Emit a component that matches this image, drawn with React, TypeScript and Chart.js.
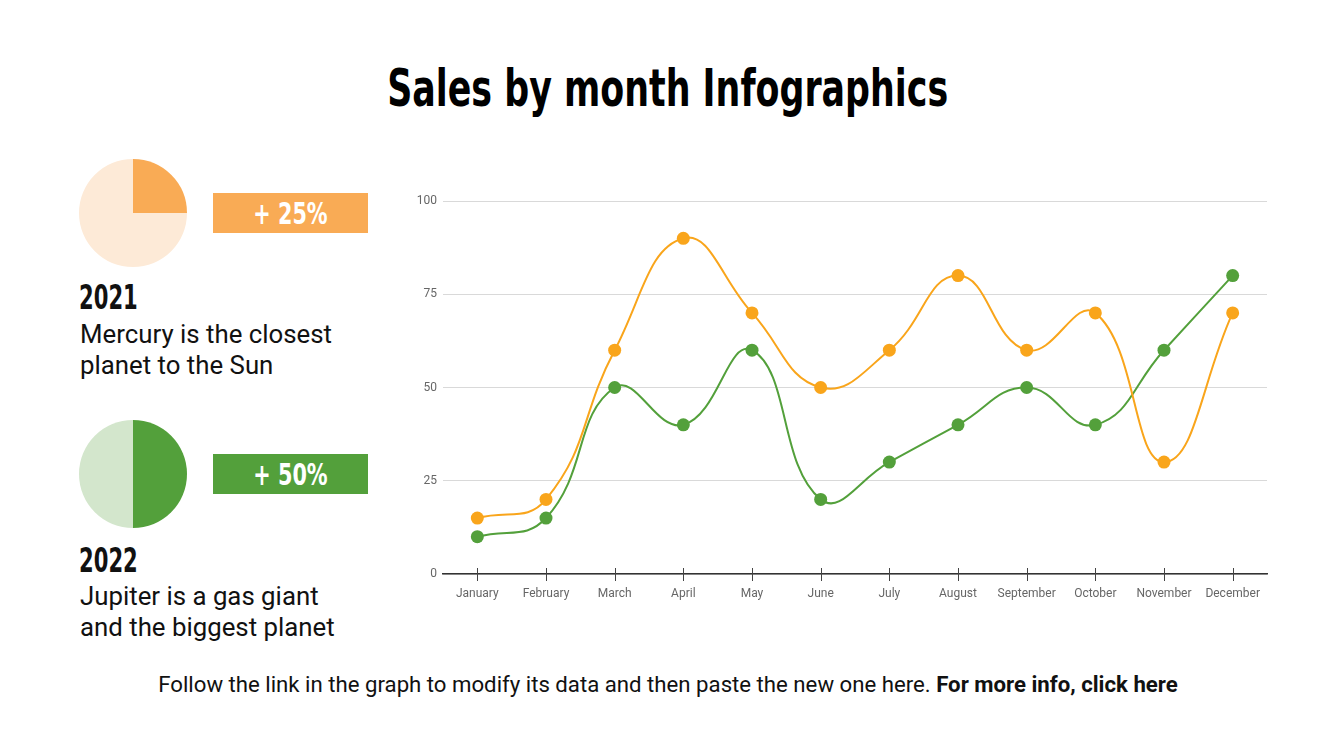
import React, { useEffect, useRef } from "react";
import { Chart, registerables } from "chart.js";

Chart.register(...registerables);

const months = ["January", "February", "March", "April", "May", "June", "July", "August", "September", "October", "November", "December"];
const sales2021 = [15, 20, 60, 90, 70, 50, 60, 80, 60, 70, 30, 70];
const sales2022 = [10, 15, 50, 40, 60, 20, 30, 40, 50, 40, 60, 80];
const yTicks = [0, 25, 50, 75, 100];
const pie2021 = [25, 75];
const pie2022 = [50, 50];

const ORANGE = "#F9A51B";
const GREEN = "#53A03B";
const CONDENSED = "'DejaVu Sans', sans-serif";

const tickCross = {
  id: "tickCross",
  afterDraw(chart: any) {
    const x = chart.scales.x;
    const ctx = chart.ctx;
    ctx.save();
    ctx.strokeStyle = "#444";
    ctx.lineWidth = 1;
    for (let i = 0; i < months.length; i++) {
      const px = Math.round(x.getPixelForTick(i)) + 0.5;
      ctx.beginPath();
      ctx.moveTo(px, x.top - 6);
      ctx.lineTo(px, x.top + 7);
      ctx.stroke();
    }
    ctx.restore();
  },
};

function LineChart() {
  const ref = useRef<HTMLCanvasElement>(null);
  useEffect(() => {
    const chart = new Chart(ref.current!, {
      type: "line",
      data: {
        labels: months,
        datasets: [
          {
            data: sales2021,
            borderColor: ORANGE,
            backgroundColor: ORANGE,
            pointBackgroundColor: ORANGE,
            pointBorderWidth: 0,
            pointRadius: 6.5,
            borderWidth: 2,
            tension: 0.45,
          },
          {
            data: sales2022,
            borderColor: GREEN,
            backgroundColor: GREEN,
            pointBackgroundColor: GREEN,
            pointBorderWidth: 0,
            pointRadius: 6.5,
            borderWidth: 2,
            tension: 0.45,
          },
        ],
      },
      options: {
        animation: false,
        responsive: false,
        maintainAspectRatio: false,
        layout: { padding: { top: 16, right: 13, left: 0, bottom: 0 } },
        plugins: { legend: { display: false }, tooltip: { enabled: false } },
        scales: {
          x: {
            offset: true,
            grid: { display: false, drawTicks: false },
            border: { display: true, color: "#333", width: 1.5 },
            ticks: { color: "#666", font: { family: "Roboto", size: 12 }, padding: 13, maxRotation: 0, autoSkip: false },
            afterFit: (s: any) => { s.height = 36; },
          },
          y: {
            min: 0,
            max: 100,
            afterBuildTicks: (s: any) => { s.ticks = yTicks.map((v) => ({ value: v })); },
            grid: { color: "#d9d9d9", drawTicks: false },
            border: { display: false },
            ticks: { color: "#666", font: { family: "Roboto", size: 12 }, padding: 6 },
            afterFit: (s: any) => { s.width = 43; },
          },
        },
      },
      plugins: [tickCross],
    });
    return () => chart.destroy();
  }, []);
  return <canvas ref={ref} width={880} height={425} style={{ position: "absolute", left: 400, top: 185, width: 880, height: 425 }} />;
}

function Pie({ values, colors, left, top }: { values: number[]; colors: string[]; left: number; top: number }) {
  const ref = useRef<HTMLCanvasElement>(null);
  useEffect(() => {
    const chart = new Chart(ref.current!, {
      type: "pie",
      data: { datasets: [{ data: values, backgroundColor: colors, borderWidth: 0 }] },
      options: {
        animation: false,
        responsive: false,
        plugins: { legend: { display: false }, tooltip: { enabled: false } },
        layout: { padding: 0 },
      },
    });
    return () => chart.destroy();
  }, []);
  return <canvas ref={ref} width={108} height={108} style={{ position: "absolute", left, top, width: 108, height: 108 }} />;
}

function Badge({ text, color, top }: { text: string; color: string; top: number }) {
  return (
    <div
      style={{
        position: "absolute",
        left: 213,
        top,
        width: 155,
        height: 40,
        background: color,
        color: "#fff",
        fontFamily: CONDENSED,
        fontWeight: 700,
        fontSize: 31,
        lineHeight: "40px",
        textAlign: "center",
      }}
    >
      <span style={{ display: "inline-block", transform: "scaleX(0.67)", transformOrigin: "center" }}>{text}</span>
    </div>
  );
}

export default function App() {
  const body: React.CSSProperties = {
    position: "absolute",
    left: 80,
    fontFamily: "Roboto, sans-serif",
    fontSize: 25.8,
    lineHeight: "31px",
    color: "#111",
    whiteSpace: "pre",
  };
  const year: React.CSSProperties = {
    position: "absolute",
    left: 79,
    fontFamily: CONDENSED,
    fontWeight: 700,
    fontSize: 33,
    lineHeight: "36px",
    color: "#111",
    transform: "scaleX(0.64)",
    transformOrigin: "left center",
  };
  return (
    <div style={{ position: "fixed", left: 0, top: 0, width: 1336, height: 752, background: "#fff", overflow: "hidden" }}>
      <div
        style={{
          position: "absolute",
          left: 0,
          width: 1336,
          top: 58,
          textAlign: "center",
          fontFamily: CONDENSED,
          fontWeight: 700,
          fontSize: 52,
          lineHeight: "60px",
          color: "#000",
        }}
      >
        <span style={{ display: "inline-block", transform: "scaleX(0.67)", transformOrigin: "center" }}>Sales by month Infographics</span>
      </div>

      <Pie values={pie2021} colors={["#F9AB55", "#FDEAD7"]} left={79} top={159} />
      <Badge text="+ 25%" color="#F9AB55" top={193} />
      <div style={{ ...year, top: 280 }}>2021</div>
      <div style={{ ...body, top: 319 }}>{"Mercury is the closest\nplanet to the Sun"}</div>

      <Pie values={pie2022} colors={["#53A03B", "#D3E6CC"]} left={79} top={420} />
      <Badge text="+ 50%" color="#53A03B" top={454} />
      <div style={{ ...year, top: 543 }}>2022</div>
      <div style={{ ...body, top: 581 }}>{"Jupiter is a gas giant\nand the biggest planet"}</div>

      <LineChart />

      <div
        style={{
          position: "absolute",
          left: 0,
          width: 1336,
          top: 670,
          textAlign: "center",
          fontFamily: "Roboto, sans-serif",
          fontSize: 22.2,
          lineHeight: "28px",
          color: "#111",
        }}
      >
        Follow the link in the graph to modify its data and then paste the new one here. <b>For more info, click here</b>
      </div>
    </div>
  );
}
